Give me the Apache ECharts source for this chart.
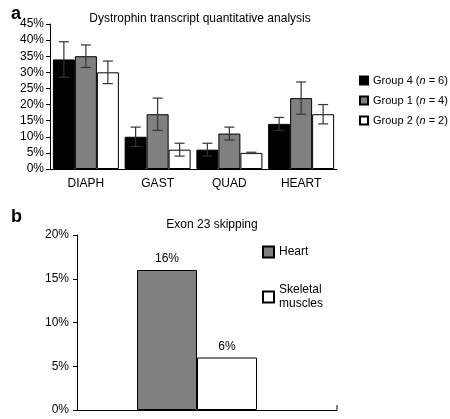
<!DOCTYPE html><html><head><meta charset="utf-8"><script src="https://cdn.jsdelivr.net/npm/echarts@6/dist/echarts.min.js"></script>
<style>body{margin:0}#c{width:450px;height:419px}</style></head><body><div id="c"></div><script>
const categories=['DIAPH','GAST','QUAD','HEART'];
const groupNames=['Group 4','Group 1','Group 2'];
const groupN=[6,4,2];
const g4=[34,10,6,14], g4err=[5.5,3,2,2];
const g1=[35,17,11,22], g1err=[3.5,5,2,5];
const g2=[30,6,5,17], g2err=[3.5,2,0.2,3];
const colorsA=['#000','#808080','#fff'];
const bCats=['','Exon 23','',''];
const heart=[null,16,null,null], skeletal=[null,null,6,null];
const groups=[[g4,g4err],[g1,g1err],[g2,g2err]];
const ff='Liberation Sans, Arial, sans-serif';
const series=[];
groups.forEach((g,i)=>{
 series.push({name:String(i),type:'bar',xAxisIndex:0,yAxisIndex:0,data:g[0],barWidth:22,barGap:'0%',
  itemStyle:{color:colorsA[i],borderColor:'#000',borderWidth:1}});
});
groups.forEach((g,i)=>{
 series.push({type:'custom',xAxisIndex:0,yAxisIndex:0,z:5,data:g[0].map((v,j)=>[j,v-g[1][j],v+g[1][j]]),
  renderItem:(p,api)=>{const off=(i-1)*22;const lo=api.coord([api.value(0),api.value(1)]);const hi=api.coord([api.value(0),api.value(2)]);const x=lo[0]+off;
   const s={stroke:'#333',lineWidth:1.2};
   return {type:'group',children:[{type:'line',shape:{x1:x,y1:lo[1],x2:x,y2:hi[1]},style:s},{type:'line',shape:{x1:x-5,y1:lo[1],x2:x+5,y2:lo[1]},style:s},{type:'line',shape:{x1:x-5,y1:hi[1],x2:x+5,y2:hi[1]},style:s}]};}});
});
series.push({name:'Heart',type:'bar',xAxisIndex:1,yAxisIndex:1,stack:'b',data:heart,barWidth:'100%',itemStyle:{color:'#808080',borderColor:'#000',borderWidth:1},
 label:{show:true,position:'top',formatter:'{c}%',color:'#000',fontSize:12,fontFamily:ff}});
series.push({name:'Skeletal\nmuscles',type:'bar',xAxisIndex:1,yAxisIndex:1,stack:'b',data:skeletal,barWidth:'100%',itemStyle:{color:'#fff',borderColor:'#000',borderWidth:1},
 label:{show:true,position:'top',formatter:'{c}%',color:'#000',fontSize:12,fontFamily:ff}});
const axisLbl={color:'#000',fontSize:12,fontFamily:ff};
const chart=echarts.init(document.getElementById('c'));
chart.setOption({animation:false,
 title:[{text:'Dystrophin transcript quantitative analysis',left:195,top:8,textAlign:'center',textStyle:{fontSize:12,fontWeight:'normal',fontFamily:ff,color:'#000'}},
  {text:'Exon 23 skipping',left:207,top:214,textAlign:'center',textStyle:{fontSize:12,fontWeight:'normal',fontFamily:ff,color:'#000'}},
  {text:'a',left:6,top:0,textStyle:{fontSize:18,fontWeight:'bold',fontFamily:ff,color:'#000'}},
  {text:'b',left:6,top:203,textStyle:{fontSize:18,fontWeight:'bold',fontFamily:ff,color:'#000'}}],
 legend:[{data:['0','1','2'],icon:'rect',orient:'vertical',left:354,top:70,itemWidth:8,itemHeight:8,itemGap:9,
   formatter:n=>'{t|'+groupNames[+n]+' (}{i|n}{t| = '+groupN[+n]+')}',
   textStyle:{rich:{t:{fontSize:11,fontFamily:ff,color:'#000'},i:{fontSize:11,fontFamily:ff,fontStyle:'italic',color:'#000'}}}},
  {data:['Heart','Skeletal\nmuscles'],icon:'rect',orient:'vertical',left:257,top:240,itemWidth:11,itemHeight:11,itemGap:24,
   textStyle:{fontSize:12,fontFamily:ff,color:'#000',lineHeight:14}}],
 grid:[{left:50,right:113,top:24,bottom:250},{left:77,right:133,top:235,bottom:9}],
 xAxis:[{type:'category',gridIndex:0,data:categories,axisTick:{show:false},axisLine:{lineStyle:{color:'#000'}},axisLabel:Object.assign({margin:9},axisLbl)},
  {type:'category',gridIndex:1,data:bCats,axisTick:{show:false},axisLabel:{show:false},axisLine:{lineStyle:{color:'#000'}}}],
 yAxis:[{type:'value',gridIndex:0,min:0,max:45,interval:5,splitLine:{show:false},axisLine:{show:true,lineStyle:{color:'#000'}},axisTick:{show:true,length:4},axisLabel:Object.assign({formatter:'{value}%',margin:6},axisLbl)},
  {type:'value',gridIndex:1,min:0,max:20,interval:5,splitLine:{show:false},axisLine:{show:true,lineStyle:{color:'#000'}},axisTick:{show:true,length:4},axisLabel:Object.assign({formatter:'{value}%',margin:8},axisLbl)}],
 graphic:[{type:'line',z:100,shape:{x1:77,y1:410.5,x2:337,y2:410.5},style:{stroke:'#000',lineWidth:1}},{type:'line',z:100,shape:{x1:337,y1:405,x2:337,y2:410.5},style:{stroke:'#000',lineWidth:1}}],
 series});
</script></body></html>
